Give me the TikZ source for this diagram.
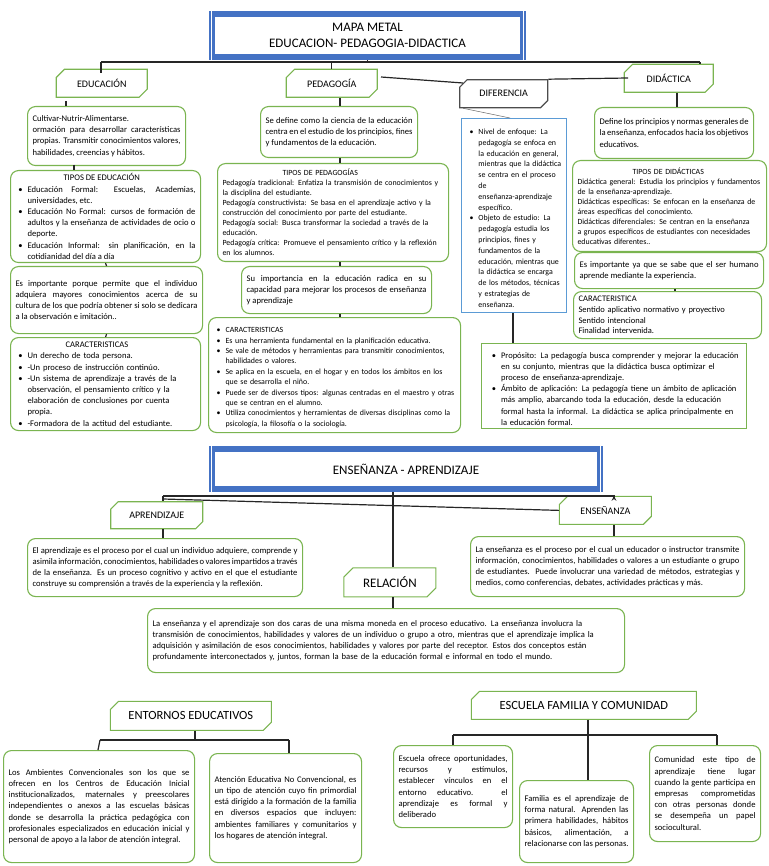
\documentclass[tikz,border=0pt]{standalone}
\usepackage{fontspec}
\setmainfont{Carlito}
\usepackage{enumitem}
\setlist[itemize]{leftmargin=12pt,nosep,label=\textbullet,itemsep=0pt}
\hyphenpenalty=10000 \exhyphenpenalty=10000
\usetikzlibrary{shapes.misc}
\definecolor{ggreen}{RGB}{122,180,80}
\definecolor{bblue}{RGB}{68,114,196}
\definecolor{lblue}{RGB}{91,155,213}
\tikzset{
 gbox/.style={draw=ggreen, line width=1.1pt, rounded corners=8pt, fill=white, anchor=north west, inner xsep=5pt, inner ysep=2pt, align=justify, font=\fontsize{8.6}{11.2}\selectfont},
 lbl/.style={chamfered rectangle, chamfered rectangle corners={north west,south east}, chamfered rectangle xsep=5pt, chamfered rectangle ysep=4pt, draw=ggreen, line width=1.1pt, fill=white, anchor=north west, inner sep=0pt, align=center, font=\fontsize{10}{12}\selectfont},
 ttl/.style={draw=bblue, line width=6pt, fill=white, anchor=north west, align=center, font=\fontsize{13}{15.5}\selectfont, inner sep=0pt},
 con/.style={line width=1.2pt, black!85}
}
\newcommand{\gb}[6]{\node[gbox, text width=#4-10, minimum width=#4, minimum height=#5] (#1) at (#2,#3) {#6};}
\begin{document}
\begin{tikzpicture}[x=1pt,y=-1pt]
\useasboundingbox (0,0) rectangle (768,866);
% titles
\node[ttl, minimum width=311, minimum height=43] (t1) at (209,11) {MAPA METAL\\EDUCACION- PEDAGOGIA-DIDACTICA};
\draw[white, line width=0.8pt] ([shift={(2.2,-2.2)}]t1.north west) rectangle ([shift={(-2.2,2.2)}]t1.south east);
% label boxes
\node[lbl, minimum width=91, minimum height=28] (edu) at (60,73) {EDUCACIÓN};
\node[lbl, minimum width=91, minimum height=28] (ped) at (290,73) {PEDAGOGÍA};
\node[lbl, minimum width=88, minimum height=28, draw=black!70] (dif) at (463,83) {DIFERENCIA};
\node[lbl, minimum width=89, minimum height=28] (did) at (628,68) {DIDÁCTICA};
% connectors top
\draw[con] (t1.south) -- (t1.south |- 0,62);
\draw[con] (101,62) -- (700,62);
\draw[con] (101,62) -- (101,73);
\draw[con] (ped.north) -- (ped.north |- 0,62);
\draw[con] (did.north -| 700,0) -- (700,62);
\draw[con] (381,77) -- (dif.north west);
\draw[con] (dif.north east) -- (628,78);
% Educacion column
\gb{e1}{27}{106}{158}{59}{Cultivar-Nutrir-Alimentarse.\\ ormación para desarrollar características propias. Transmitir conocimientos valores, habilidades, creencias y hábitos.}
\gb{e2}{10}{170}{190}{92}{\hspace*{48pt}TIPOS DE EDUCACIÓN\par
\begin{itemize}\item Educación Formal: Escuelas, Academias, universidades, etc.\item Educación No Formal: cursos de formación de adultos y la enseñanza de actividades de ocio o deporte.\item Educación Informal: sin planificación, en la cotidianidad del día a día\end{itemize}}
\gb{e3}{10}{266}{192}{67}{Es importante porque permite que el individuo adquiera mayores conocimientos acerca de su cultura de los que podría obtener si solo se dedicara a la observación e imitación..}
\node[gbox, text width=180, minimum width=190, minimum height=93, align=left] (e4) at (10,337) {\hspace*{50pt}CARACTERISTICAS
\begin{itemize}\item Un derecho de toda persona.\item -Un proceso de instrucción continúo.\item -Un sistema de aprendizaje a través de la observación, el pensamiento crítico y la elaboración de conclusiones por cuenta propia.\item -Formadora de la actitud del estudiante.\end{itemize}};
\draw[con] (66,101) -- (e1.north -| 66,0);
\draw[con] (74,165) -- (e2.north -| 74,0);
\draw[con] (e2.south) -- (e3.north);
\draw[con] (e3.south) -- (e4.north);
% Pedagogia column
\gb{p1}{260}{106}{157}{51}{Se define como la ciencia de la educación centra en el estudio de los principios, fines y fundamentos de la educación.}
\node[gbox, text width=221, minimum width=231, minimum height=98, font=\fontsize{7.9}{10}\selectfont, align=left] (p2) at (217,163) {\hspace*{60pt}TIPOS DE PEDAGOGÍAS\\Pedagogía tradicional: Enfatiza la transmisión de conocimientos y la disciplina del estudiante.\\Pedagogía constructivista: Se basa en el aprendizaje activo y la construcción del conocimiento por parte del estudiante.\\Pedagogía social: Busca transformar la sociedad a través de la educación.\\Pedagogía crítica: Promueve el pensamiento crítico y la reflexión en los alumnos.};
\gb{p3}{241}{266}{190}{47}{Su importancia en la educación radica en su capacidad para mejorar los procesos de enseñanza y aprendizaje}
\node[gbox, text width=242, minimum width=252, minimum height=115, font=\fontsize{7.9}{10.4}\selectfont, align=left] (p4) at (208,317) {\begin{itemize}\item CARACTERISTICAS\item Es una herramienta fundamental en la planificación educativa.\item Se vale de métodos y herramientas para transmitir conocimientos, habilidades o valores.\item Se aplica en la escuela, en el hogar y en todos los ámbitos en los que se desarrolla el niño.\item Puede ser de diversos tipos: algunas centradas en el maestro y otras que se centran en el alumno.\item Utiliza conocimientos y herramientas de diversas disciplinas como la psicología, la filosofía o la sociología.\end{itemize}};
\draw[con] (ped.south -| 340,0) -- (p1.north -| 340,0);
\draw[con] (p1.south -| 340,0) -- (p2.north -| 340,0);
\draw[con] (p2.south -| 340,0) -- (p3.north -| 340,0);
\draw[con] (p3.south -| 340,0) -- (p4.north -| 340,0);
% Diferencia
\node[draw=lblue, line width=0.9pt, fill=white, anchor=north west, text width=95, minimum width=105, minimum height=194, inner xsep=5pt, font=\fontsize{7.9}{10.8}\selectfont, align=left] (d1) at (461,118) {\begin{itemize}\item Nivel de enfoque: La pedagogía se enfoca en la educación en general, mientras que la didáctica se centra en el proceso de enseñanza-aprendizaje específico.\item Objeto de estudio: La pedagogía estudia los principios, fines y fundamentos de la educación, mientras que la didáctica se encarga de los métodos, técnicas y estrategias de enseñanza.\end{itemize}};
\draw[black!60, line width=0.5pt] (dif.south west) ++(4,0) -- (510,118);
\node[draw=ggreen, line width=1.1pt, fill=white, anchor=north west, text width=250, minimum width=265, minimum height=85, inner xsep=5pt, font=\fontsize{8.5}{11.2}\selectfont, align=left] (d2) at (481,343) {\begin{itemize}\item Propósito: La pedagogía busca comprender y mejorar la educación en su conjunto, mientras que la didáctica busca optimizar el proceso de enseñanza-aprendizaje.\item Ámbito de aplicación: La pedagogía tiene un ámbito de aplicación más amplio, abarcando toda la educación, desde la educación formal hasta la informal. La didáctica se aplica principalmente en la educación formal.\end{itemize}};
\draw[con] (d1.south -| 513,0) -- (d2.north -| 513,0);
% Didactica column
\gb{c1}{594}{107}{159}{51}{Define los principios y normas generales de la enseñanza, enfocados hacia los objetivos educativos.}
\node[gbox, text width=184, minimum width=194, minimum height=91, font=\fontsize{7.9}{10}\selectfont, align=left] (c2) at (572,160) {\hspace*{55pt}TIPOS DE DIDÁCTICAS\\Didáctica general: Estudia los principios y fundamentos de la enseñanza-aprendizaje.\\Didácticas específicas: Se enfocan en la enseñanza de áreas específicas del conocimiento.\\Didácticas diferenciales: Se centran en la enseñanza a grupos específicos de estudiantes con necesidades educativas diferentes..};
\gb{c3}{574}{252}{189}{36}{Es importante ya que se sabe que el ser humano aprende mediante la experiencia.}
\node[gbox, text width=178, minimum width=188, minimum height=47, align=left, font=\fontsize{8.5}{10.8}\selectfont] (c4) at (573,291) {CARACTERISTICA\\Sentido aplicativo normativo y proyectivo\\Sentido intencional\\Finalidad intervenida.};
\draw[con] (did.south -| 677,0) -- (c1.north -| 677,0);
\draw[con] (c3.south -| 675,0) -- (c4.north -| 675,0);
% Section 2
\node[ttl, minimum width=388, minimum height=40] (t2) at (209,446) {ENSEÑANZA - APRENDIZAJE};
\draw[white, line width=0.8pt] ([shift={(2.2,-2.2)}]t2.north west) rectangle ([shift={(-2.2,2.2)}]t2.south east);
\node[lbl, minimum width=92, minimum height=27] (apr) at (114,505) {APRENDIZAJE};
\node[lbl, minimum width=92, minimum height=28] (ens) at (563,500) {ENSEÑANZA};
\node[lbl, minimum width=92, minimum height=29, font=\fontsize{13}{15}\selectfont] (rel) at (348,572) {RELACIÓN};
\gb{a1}{27}{538}{275}{58}{El aprendizaje es el proceso por el cual un individuo adquiere, comprende y asimila información, conocimientos, habilidades o valores impartidos a través de la enseñanza. Es un proceso cognitivo y activo en el que el estudiante construye su comprensión a través de la experiencia y la reflexión.}
\gb{n1}{470}{536}{274}{60}{La enseñanza es el proceso por el cual un educador o instructor transmite información, conocimientos, habilidades o valores a un estudiante o grupo de estudiantes. Puede involucrar una variedad de métodos, estrategias y medios, como conferencias, debates, actividades prácticas y más.}
\node[gbox, text width=467, minimum width=477, minimum height=64, align=left] (r1) at (147,608) {La enseñanza y el aprendizaje son dos caras de una misma moneda en el proceso educativo. La enseñanza involucra la transmisión de conocimientos, habilidades y valores de un individuo o grupo a otro, mientras que el aprendizaje implica la adquisición y asimilación de esos conocimientos, habilidades y valores por parte del receptor. Estos dos conceptos están profundamente interconectados y, juntos, forman la base de la educación formal e informal en todo el mundo.};
\draw[con] (t2.south -| 393,0) -- (rel.north -| 393,0);
\draw[con] (163,496) -- (600,496);
\draw[con,-stealth] (600,496) -- (614,496) -- (ens.north -| 614,0);
\draw[con] (163,496) -- (apr.north -| 163,0);
\draw[con] (163,499) -- (ens.west);
\draw[con] (apr.south -| 163,0) -- (a1.north -| 163,0);
\draw[con] (ens.south -| 614,0) -- (n1.north -| 614,0);
\draw[con] (rel.south -| 393,0) -- (r1.north -| 393,0);
% Section 3
\node[lbl, minimum width=161, minimum height=29, font=\fontsize{12.5}{14}\selectfont] (ent) at (114,705) {ENTORNOS EDUCATIVOS};
\gb{x1}{3}{750}{191}{112}{Los Ambientes Convencionales son los que se ofrecen en los Centros de Educación Inicial institucionalizados, maternales y preescolares independientes o anexos a las escuelas básicas donde se desarrolla la práctica pedagógica con profesionales especializados en educación inicial y personal de apoyo a la labor de atención integral.}
\gb{x2}{209}{753}{152}{109}{Atención Educativa No Convencional, es un tipo de atención cuyo fin primordial está dirigido a la formación de la familia en diversos espacios que incluyen: ambientes familiares y comunitarios y los hogares de atención integral.}
\draw[con] (ent.south -| 195,0) -- (195,740);
\draw[con] (100,740) -- (289,740);
\draw[con] (100,740) -- (x1.north -| 98,0);
\draw[con] (289,740) -- (x2.north -| 289,0);
\node[lbl, minimum width=225, minimum height=28, font=\fontsize{12.5}{14}\selectfont] (efc) at (475,695) {ESCUELA FAMILIA Y COMUNIDAD};
\gb{y1}{393}{745}{119}{82}{Escuela ofrece oportunidades, recursos y estímulos, establecer vínculos en el entorno educativo. el aprendizaje es formal y deliberado}
\gb{y2}{519}{780}{114}{82}{Familia es el aprendizaje de forma natural. Aprenden las primera habilidades, hábitos básicos, alimentación, a relacionarse con las personas.}
\gb{y3}{649}{745}{111}{96}{Comunidad este tipo de aprendizaje tiene lugar cuando la gente participa en empresas comprometidas con otras personas donde se desempeña un papel sociocultural.}
\draw[con] (efc.south -| 588,0) -- (y2.north -| 588,0);
\draw[con] (453,735) -- (717,735);
\draw[con] (453,735) -- (y1.north -| 453,0);
\draw[con] (717,735) -- (y3.north -| 717,0);
\end{tikzpicture}
\end{document}
